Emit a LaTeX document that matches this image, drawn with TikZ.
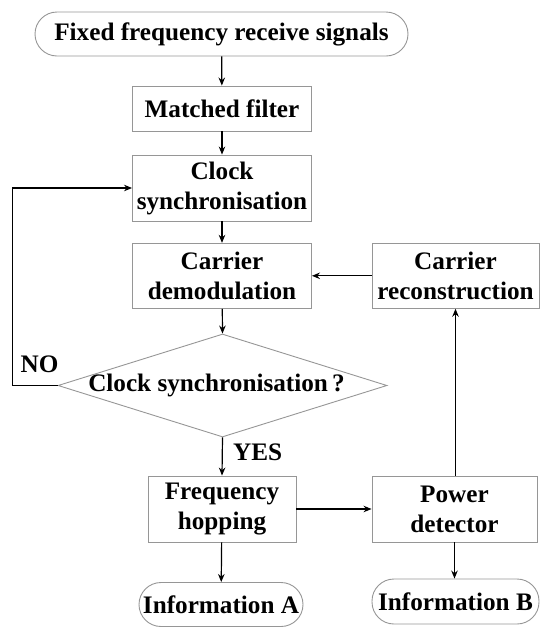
\documentclass[tikz,border=0pt]{standalone}
\usepackage{fontspec}
\setmainfont{Liberation Serif}
\usetikzlibrary{shapes.geometric,arrows.meta}
\definecolor{boxgray}{RGB}{150,150,150}
\tikzset{
  txt/.style={font=\fontsize{25.2}{30}\selectfont\bfseries, align=center, inner sep=0pt},
  blk/.style={txt, draw=boxgray, line width=0.9pt, rectangle},
  term/.style={blk, rounded corners=22pt},
  dec/.style={txt, draw=boxgray, line width=0.9pt, diamond},
  arr/.style={draw=black, line width=1.2pt, -{Stealth[length=8pt,width=6.5pt]}},
}
\begin{document}
\begin{tikzpicture}[x=1pt,y=-1pt]
\useasboundingbox (0,0) rectangle (550,638);
\node[term, minimum width=373pt, minimum height=44pt] (start) at (221.5,34) {Fixed frequency receive signals};
\node[blk, minimum width=179pt, minimum height=45pt] (mf) at (222,108.5) {Matched filter};
\node[blk, minimum width=179pt, minimum height=66pt] (cs) at (222,188) {Clock\\synchronisation};
\node[blk, minimum width=179pt, minimum height=65pt] (cd) at (222,275.8) {Carrier\\demodulation};
\node[blk, minimum width=167pt, minimum height=65pt] (cr) at (455.5,275.8) {Carrier\\reconstruction};
\node[dec, minimum width=329pt, minimum height=103pt] (q) at (222.5,385.5) {\makebox[0pt]{\hspace*{-12pt}Clock synchronisation\,?}};
\node[blk, minimum width=148pt, minimum height=66pt] (fh) at (222,509) {Frequency\\hopping};
\node[blk, minimum width=165pt, minimum height=66pt] (pd) at (454.5,509) {Power\\detector};
\node[term, minimum width=164pt, minimum height=44pt] (ia) at (221,604.5) {Information A};
\node[term, minimum width=167pt, minimum height=45pt] (ib) at (455.5,601.5) {Information B};
\node[txt, anchor=base west] (no) at (20.5,372.5) {NO};
\node[txt, anchor=base west] (yes) at (233,460) {YES};
\coordinate (loop) at (12.7,385.5);
\draw[arr] (start) -- (mf);
\draw[arr] (mf) -- (cs);
\draw[arr] (cs) -- (cd);
\draw[arr] (cr.west) -- (cd.east);
\draw[arr] (cd) -- (q.north);
\draw[arr] (q.west) -- (loop) |- (cs.west);
\draw[arr] (q.south) -- (fh.north);
\draw[arr] (fh.east) -- (pd.west);
\draw[arr] (cr.south |- pd.north) -- (cr.south);
\draw[arr] (fh) -- (ia);
\draw[arr] (pd.south) -- (pd.south |- ib.north);
\end{tikzpicture}
\end{document}
